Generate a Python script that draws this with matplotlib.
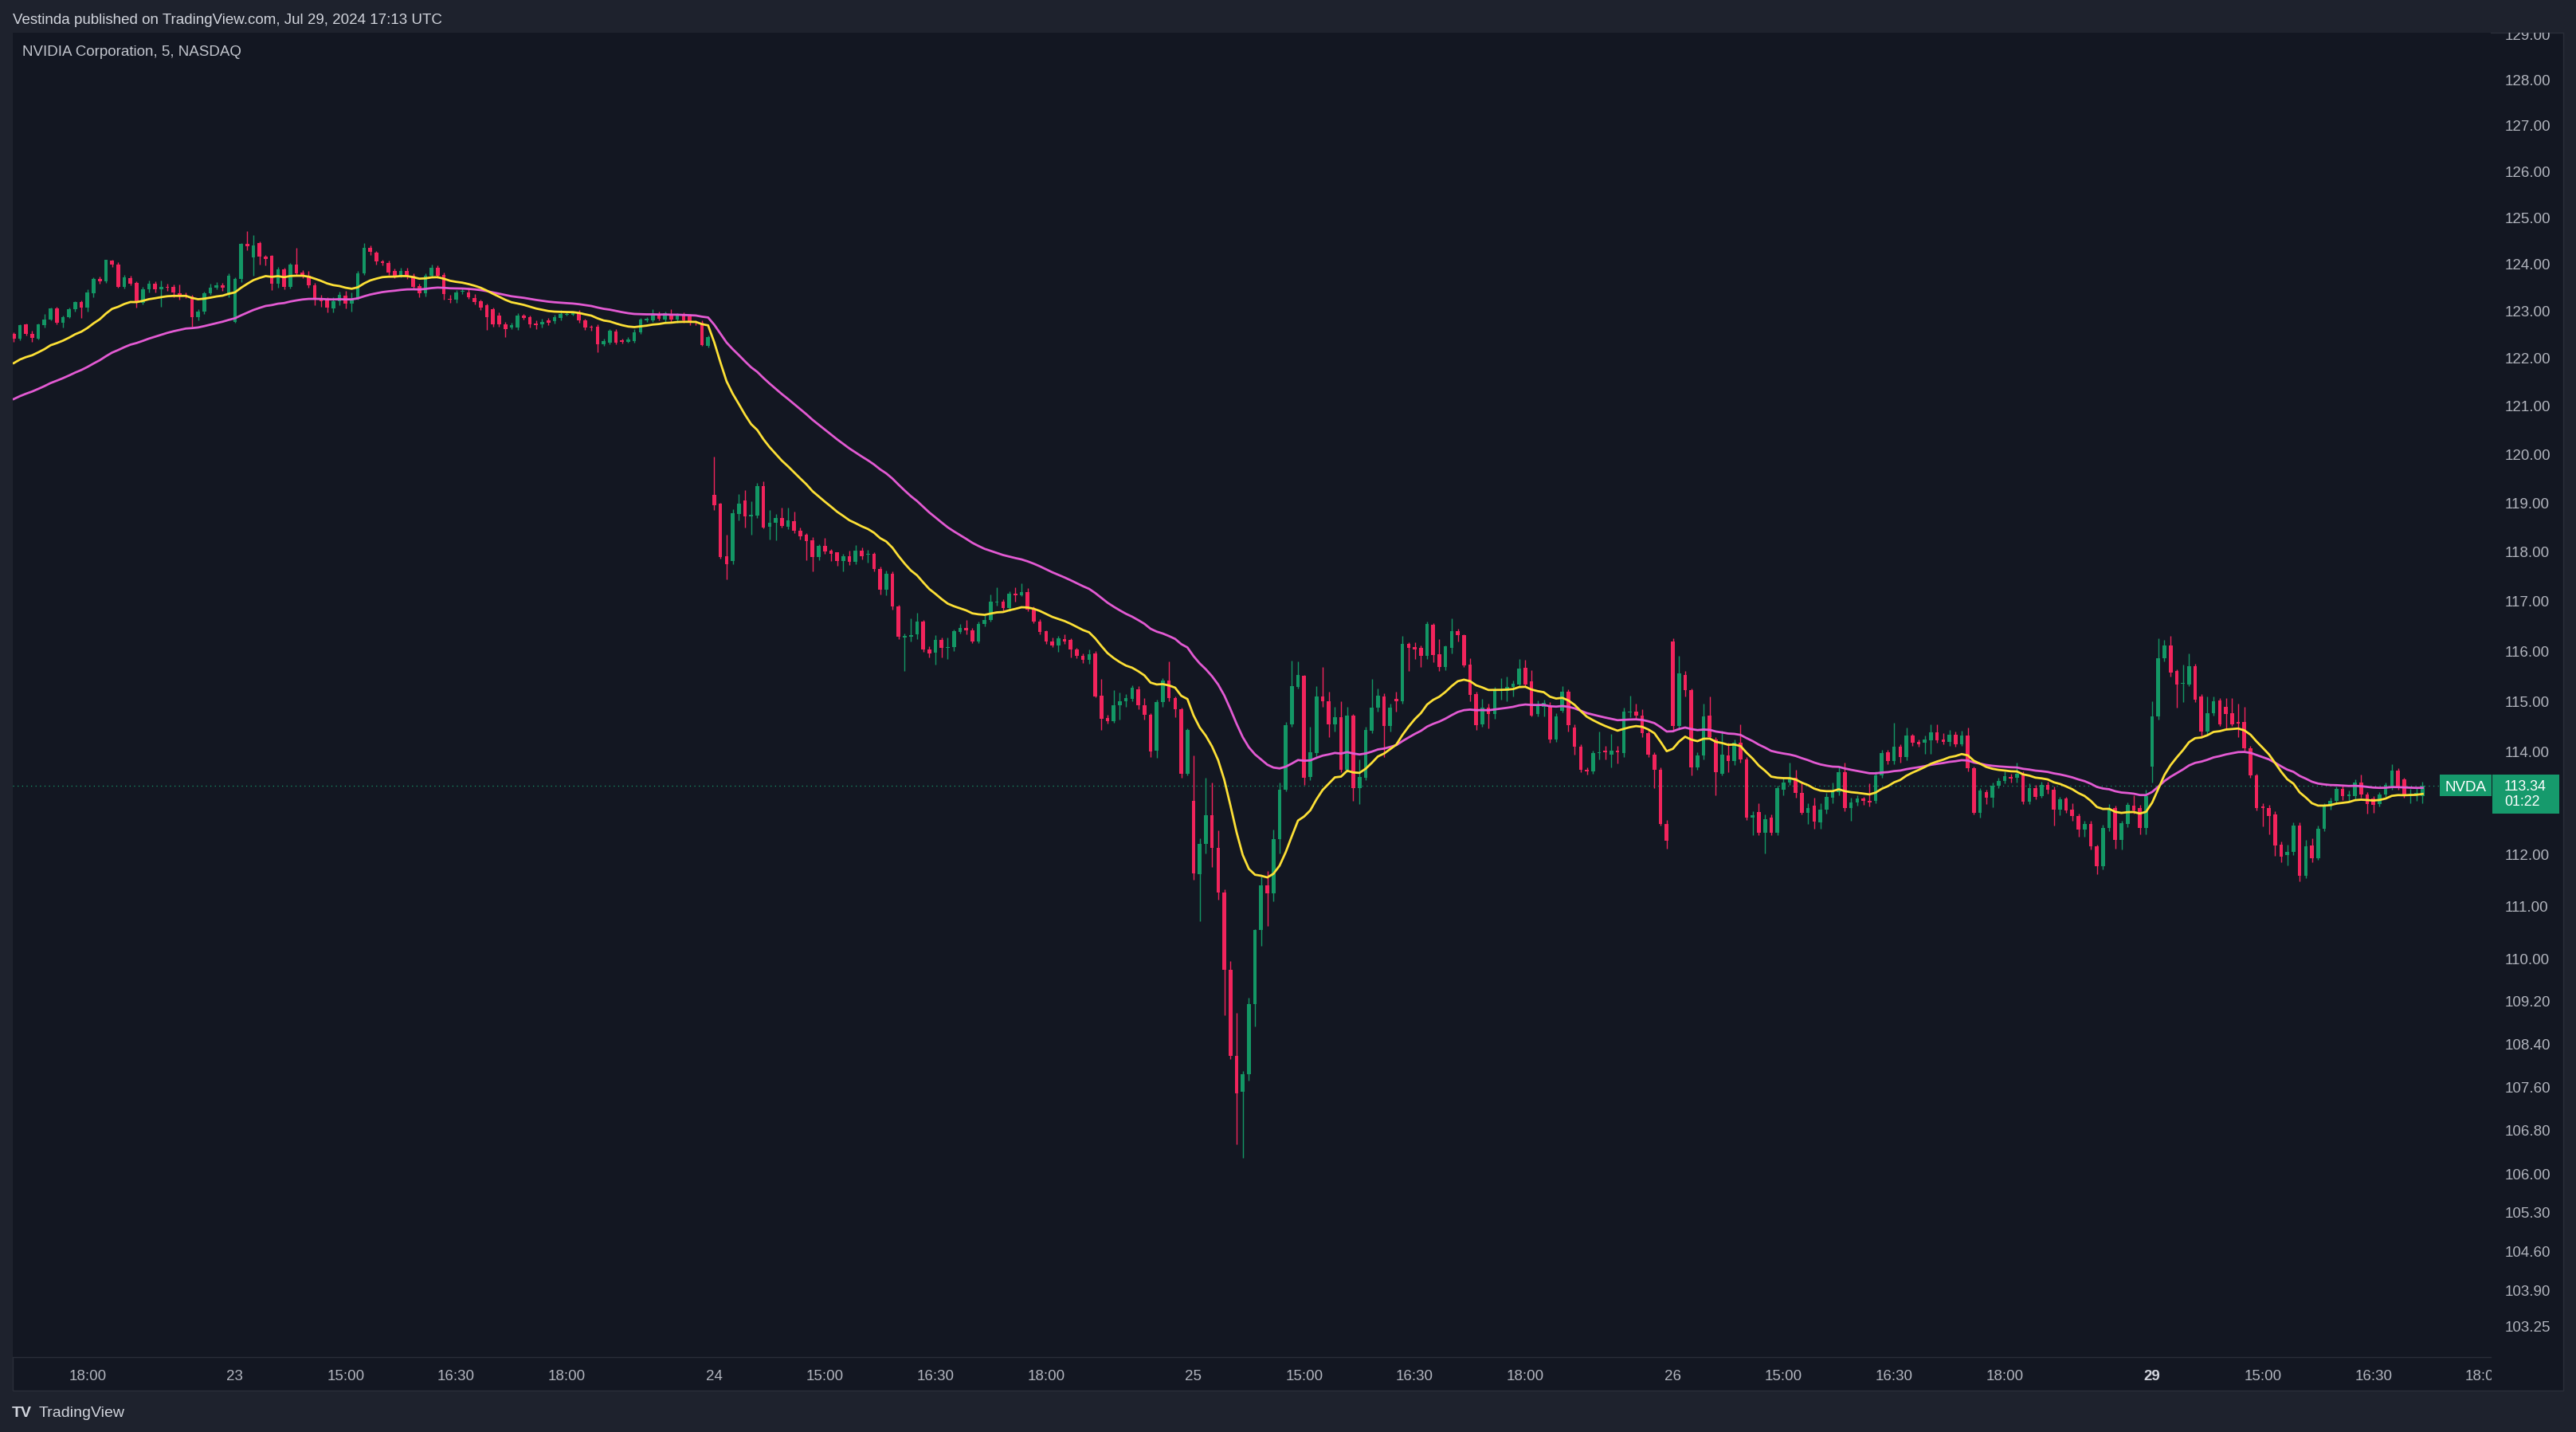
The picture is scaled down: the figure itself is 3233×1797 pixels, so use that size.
import numpy as np
import pandas as pd
import matplotlib
matplotlib.use('Agg')
import matplotlib.pyplot as plt
from matplotlib.patches import Rectangle
from matplotlib.transforms import Bbox
from matplotlib.ticker import FixedLocator, NullLocator, FuncFormatter

plt.rcParams['font.family'] = ['Liberation Sans', 'DejaVu Sans']

# NVDA 5-minute bars, 2024-07-22 17:00 UTC .. 2024-07-29 17:10 UTC
open_ = [
    # Jul 22
    122.52, 122.42, 122.72, 122.52, 122.42, 122.70, 122.82, 123.06, 122.76, 122.87, 123.04, 123.20,
    123.08, 123.38, 123.68, 123.64, 124.08, 124.00, 123.52, 123.70, 123.60, 123.18, 123.47, 123.58,
    123.47, 123.52, 123.51, 123.38, 123.34, 123.31, 122.87, 122.99, 123.38, 123.50, 123.55, 123.36,
    # Jul 23
    122.78, 123.68, 124.43, 124.15, 124.45, 124.16, 124.18, 123.59, 123.89, 123.52,
    123.99, 123.83, 123.75, 123.55, 123.27, 123.24, 123.06, 123.21, 123.33, 123.17,
    123.27, 123.81, 124.36, 124.25, 124.06, 124.03, 123.85, 123.76, 123.85, 123.75,
    123.53, 123.38, 123.76, 123.92, 123.77, 123.27, 123.24, 123.41, 123.40, 123.28,
    123.21, 123.12, 123.04, 122.90, 122.73, 122.65, 122.65, 122.90, 122.87, 122.74,
    122.72, 122.81, 122.79, 122.86, 122.93, 122.93, 122.98, 122.81, 122.66, 122.68,
    122.31, 122.34, 122.57, 122.39, 122.36, 122.37, 122.55, 122.81, 122.81, 122.93,
    122.82, 122.93, 122.82, 122.93, 122.89, 122.78, 122.76, 122.27,
    # Jul 24
    119.17, 118.99, 117.92, 117.81, 118.78, 119.05, 118.73, 118.75, 119.35, 118.51,
    118.60, 118.69, 118.52, 118.63, 118.44, 118.35, 118.24, 117.90, 118.13, 118.02,
    117.99, 117.82, 117.92, 117.80, 118.02, 117.94, 117.96, 117.66, 117.23, 117.56,
    116.90, 116.28, 116.29, 116.34, 116.60, 116.04, 115.97, 116.22, 116.06, 116.08,
    116.39, 116.47, 116.41, 116.20, 116.55, 116.62, 116.98, 117.00, 116.87, 117.15,
    117.12, 117.18, 116.83, 116.60, 116.40, 116.20, 116.12, 116.24, 116.23, 116.03,
    115.91, 115.82, 115.96, 115.11, 114.67, 114.61, 114.93, 115.00, 115.05, 115.24,
    114.93, 114.73, 114.02, 114.98, 115.42, 115.07, 114.85, 113.58,
    # Jul 25
    113.05, 111.63, 112.21, 112.77, 112.13, 111.28, 109.80, 108.19, 107.51, 107.84,
    109.16, 110.55, 111.41, 111.26, 112.30, 113.27, 114.55, 115.29, 115.51, 113.51,
    113.98, 115.09, 115.01, 114.55, 114.68, 113.66, 114.72, 113.29, 113.50, 114.42,
    114.87, 115.10, 114.51, 115.05, 115.00, 116.15, 116.08, 116.06, 115.91, 116.53,
    115.94, 115.69, 116.07, 116.40, 116.32, 115.73, 115.15, 114.54, 114.87, 114.75,
    115.21, 115.21, 115.28, 115.34, 115.67, 115.40, 114.75, 114.90, 114.93, 114.24,
    114.82, 115.20, 114.49, 114.11, 113.66, 113.62, 113.98, 114.02, 113.95, 114.02,
    113.98, 114.78, 114.80, 114.72, 114.38, 113.95, 113.66, 112.60,
    # Jul 26
    116.20, 114.51, 115.52, 115.23, 113.70, 113.93, 114.72, 114.24, 113.58, 113.93,
    113.82, 114.19, 113.85, 112.72, 112.83, 112.43, 112.72, 112.43, 113.27, 113.41,
    113.50, 113.20, 112.82, 112.95, 112.63, 112.88, 113.11, 113.21, 113.60, 112.90,
    113.02, 113.09, 113.05, 113.04, 113.55, 113.99, 113.82, 114.11, 113.90, 114.32,
    114.20, 114.18, 114.23, 114.39, 114.25, 114.20, 114.34, 114.16, 114.32, 113.69,
    112.81, 113.22, 113.10, 113.34, 113.43, 113.51, 113.50, 113.57, 113.03, 113.30,
    113.14, 113.35, 113.27, 112.88, 113.09, 112.87, 112.75, 112.49, 112.60, 112.16,
    111.78, 112.52, 112.91, 112.28, 112.60, 112.95, 112.90, 112.52,
    # Jul 29
    113.72, 114.70, 115.86, 116.12, 115.61, 115.35, 115.34, 115.70, 115.10, 114.41,
    114.76, 115.02, 114.90, 114.76, 114.60, 114.60, 114.08, 113.54, 112.94, 112.91,
    112.78, 112.20, 111.99, 112.06, 112.57, 111.60, 112.18, 111.94, 112.51, 112.94,
    113.04, 113.28, 113.14, 113.14, 113.40, 113.17, 113.09, 112.99, 113.17, 113.30,
    113.64, 113.46, 113.17, 113.18, 113.14,
]
high = [
    # Jul 22
    122.56, 122.72, 122.74, 122.58, 122.74, 122.95, 123.08, 123.10, 122.90, 123.08, 123.22, 123.23,
    123.46, 123.72, 123.74, 124.10, 124.10, 124.04, 123.78, 123.76, 123.64, 123.52, 123.66, 123.64,
    123.66, 123.58, 123.56, 123.56, 123.40, 123.35, 123.05, 123.42, 123.58, 123.62, 123.60, 123.80,
    # Jul 23
    123.72, 124.45, 124.71, 124.63, 124.48, 124.20, 124.20, 123.95, 123.92, 124.02,
    124.35, 123.88, 123.86, 123.60, 123.35, 123.30, 123.30, 123.42, 123.44, 123.40,
    123.85, 124.46, 124.40, 124.28, 124.10, 124.08, 123.90, 123.92, 123.92, 123.80,
    123.58, 123.80, 124.00, 123.98, 123.82, 123.35, 123.45, 123.50, 123.50, 123.36,
    123.25, 123.16, 123.08, 122.98, 122.78, 122.75, 122.96, 122.94, 122.90, 122.80,
    122.84, 122.86, 122.92, 123.02, 123.00, 123.00, 123.02, 122.84, 122.70, 122.72,
    122.42, 122.62, 122.62, 122.42, 122.45, 122.62, 122.86, 122.88, 123.05, 123.00,
    123.00, 123.05, 122.96, 122.98, 122.95, 122.80, 122.80, 122.48,
    # Jul 24
    119.96, 119.00, 118.35, 118.88, 119.19, 119.26, 119.04, 119.42, 119.44, 118.85,
    118.78, 118.90, 118.90, 118.82, 118.50, 118.38, 118.30, 118.16, 118.28, 118.06,
    118.00, 117.96, 118.02, 118.14, 118.10, 118.04, 117.99, 117.70, 117.62, 117.60,
    116.93, 116.35, 116.66, 116.77, 116.62, 116.10, 116.32, 116.28, 116.28, 116.44,
    116.55, 116.62, 116.46, 116.60, 116.72, 117.14, 117.29, 117.04, 117.20, 117.28,
    117.36, 117.26, 116.90, 116.64, 116.42, 116.28, 116.30, 116.34, 116.26, 116.06,
    115.95, 116.04, 116.00, 115.45, 114.74, 115.22, 115.18, 115.14, 115.32, 115.30,
    115.06, 114.76, 115.03, 115.46, 115.79, 115.10, 114.88, 114.47,
    # Jul 25
    113.93, 112.32, 113.50, 113.41, 112.47, 111.33, 109.97, 108.99, 107.90, 109.28,
    110.58, 111.58, 111.69, 112.48, 113.40, 114.60, 115.81, 115.80, 115.52, 114.50,
    115.31, 115.68, 115.20, 114.90, 115.00, 114.90, 114.75, 113.85, 114.50, 115.45,
    115.25, 115.16, 114.95, 115.20, 116.30, 116.18, 116.18, 116.12, 116.60, 116.56,
    116.24, 116.12, 116.66, 116.45, 116.34, 115.86, 115.20, 115.05, 114.96, 115.28,
    115.46, 115.50, 115.42, 115.84, 115.82, 115.62, 115.02, 115.04, 114.98, 114.76,
    115.30, 115.24, 114.55, 114.15, 113.70, 114.02, 114.40, 114.12, 114.35, 114.12,
    114.88, 115.12, 114.96, 114.84, 114.42, 114.00, 113.70, 112.68,
    # Jul 26
    116.26, 115.90, 115.60, 115.26, 114.00, 114.96, 115.10, 114.30, 114.42, 114.18,
    114.25, 114.54, 113.90, 112.85, 113.00, 112.78, 112.78, 113.34, 113.50, 113.80,
    113.66, 113.40, 113.00, 113.10, 113.00, 113.20, 113.40, 113.72, 113.80, 113.10,
    113.16, 113.12, 113.38, 113.62, 114.04, 114.04, 114.58, 114.16, 114.48, 114.36,
    114.24, 114.32, 114.54, 114.54, 114.38, 114.44, 114.40, 114.42, 114.48, 113.72,
    113.30, 113.26, 113.40, 113.50, 113.62, 113.58, 113.80, 113.62, 113.38, 113.36,
    113.42, 113.42, 113.32, 113.12, 113.12, 113.00, 112.80, 112.65, 112.66, 112.20,
    112.58, 112.98, 112.95, 112.66, 113.02, 113.16, 112.96, 113.26,
    # Jul 29
    115.00, 116.25, 116.22, 116.30, 115.64, 115.73, 115.96, 115.74, 115.14, 115.10,
    115.10, 115.06, 115.06, 115.06, 114.96, 114.90, 114.12, 113.58, 113.00, 112.96,
    112.85, 112.25, 112.20, 112.62, 112.62, 112.28, 112.32, 112.56, 113.00, 113.10,
    113.32, 113.35, 113.24, 113.46, 113.56, 113.22, 113.14, 113.22, 113.40, 113.76,
    113.68, 113.50, 113.28, 113.30, 113.42,
]
low = [
    # Jul 22
    122.35, 122.38, 122.48, 122.36, 122.40, 122.66, 122.80, 122.72, 122.65, 122.85, 123.00, 122.86,
    123.00, 123.30, 123.58, 123.60, 123.95, 123.50, 123.48, 123.55, 123.08, 123.14, 123.40, 123.40,
    123.10, 123.44, 123.30, 123.25, 123.28, 122.68, 122.80, 122.95, 123.34, 123.46, 123.44, 123.30,
    # Jul 23
    122.75, 123.62, 124.30, 123.75, 124.00, 123.98, 123.45, 123.50, 123.46, 123.48,
    123.76, 123.70, 123.50, 123.13, 123.10, 122.97, 122.98, 123.12, 123.06, 123.00,
    123.24, 123.78, 124.20, 124.00, 123.98, 123.78, 123.70, 123.72, 123.68, 123.47,
    123.30, 123.32, 123.72, 123.70, 123.25, 123.18, 123.18, 123.36, 123.26, 123.14,
    123.02, 122.60, 122.68, 122.68, 122.46, 122.62, 122.60, 122.82, 122.66, 122.62,
    122.66, 122.70, 122.74, 122.80, 122.90, 122.90, 122.76, 122.60, 122.58, 122.13,
    122.26, 122.30, 122.30, 122.32, 122.33, 122.33, 122.52, 122.78, 122.78, 122.80,
    122.78, 122.78, 122.76, 122.76, 122.70, 122.70, 122.26, 122.24,
    # Jul 24
    118.86, 117.86, 117.44, 117.75, 118.65, 118.50, 118.36, 118.70, 118.48, 118.26,
    118.24, 118.50, 118.47, 118.38, 118.26, 117.84, 117.60, 117.84, 117.96, 117.82,
    117.72, 117.60, 117.74, 117.76, 117.85, 117.78, 117.60, 117.14, 117.12, 116.84,
    116.24, 115.60, 116.20, 116.24, 115.98, 115.88, 115.73, 115.88, 115.85, 116.00,
    116.35, 116.34, 116.16, 116.16, 116.50, 116.60, 116.92, 116.82, 116.80, 117.00,
    117.10, 116.80, 116.56, 116.34, 116.14, 116.08, 115.98, 116.15, 115.88, 115.86,
    115.76, 115.74, 115.08, 114.44, 114.56, 114.58, 114.64, 114.90, 115.00, 114.84,
    114.64, 113.90, 113.88, 114.90, 115.00, 114.68, 113.50, 113.54,
    # Jul 25
    111.52, 110.73, 112.02, 111.76, 111.13, 108.95, 108.13, 106.54, 106.30, 107.72,
    108.73, 110.26, 110.64, 111.10, 112.02, 113.23, 114.50, 115.25, 113.35, 113.45,
    113.90, 114.90, 114.30, 114.40, 113.60, 113.60, 113.05, 112.98, 113.45, 114.38,
    114.80, 113.90, 114.40, 114.80, 114.95, 115.60, 115.85, 115.68, 115.85, 115.78,
    115.60, 115.62, 115.95, 116.20, 115.68, 115.00, 114.44, 114.50, 114.46, 114.66,
    115.04, 115.00, 115.10, 115.30, 115.30, 114.70, 114.70, 114.70, 114.18, 114.20,
    114.78, 114.40, 113.95, 113.60, 113.56, 113.58, 113.86, 113.86, 113.70, 113.78,
    113.90, 114.68, 114.66, 114.30, 113.90, 113.30, 112.56, 112.12,
    # Jul 26
    114.40, 114.44, 115.10, 113.55, 113.66, 113.86, 114.24, 113.15, 113.54, 113.60,
    113.74, 113.80, 112.68, 112.38, 112.38, 112.02, 112.38, 112.38, 113.15, 113.35,
    113.10, 112.78, 112.60, 112.50, 112.50, 112.80, 113.00, 113.15, 112.85, 112.66,
    112.95, 112.96, 112.93, 113.00, 113.50, 113.76, 113.76, 113.80, 113.84, 114.12,
    114.10, 113.96, 113.96, 114.18, 114.15, 114.12, 114.10, 114.12, 113.62, 112.78,
    112.72, 112.98, 112.92, 113.30, 113.38, 113.40, 113.40, 112.98, 112.98, 113.08,
    113.10, 113.18, 112.56, 112.76, 112.82, 112.65, 112.35, 112.35, 112.10, 111.62,
    111.72, 112.46, 112.12, 112.10, 112.54, 112.80, 112.40, 112.40,
    # Jul 29
    113.40, 114.64, 115.80, 115.50, 114.87, 114.99, 115.30, 114.98, 114.30, 114.32,
    114.72, 114.52, 114.46, 114.52, 114.30, 114.02, 113.50, 112.86, 112.55, 112.40,
    111.98, 111.85, 111.80, 112.00, 111.49, 111.55, 111.85, 111.90, 112.45, 112.88,
    112.98, 113.06, 113.04, 113.08, 113.10, 112.80, 112.82, 112.94, 113.12, 113.26,
    113.26, 113.10, 113.00, 113.05, 113.00,
]
close = [
    # Jul 22
    122.42, 122.70, 122.52, 122.44, 122.72, 122.83, 123.06, 122.75, 122.87, 123.04, 123.20, 123.08,
    123.40, 123.68, 123.64, 124.09, 124.00, 123.52, 123.72, 123.59, 123.18, 123.47, 123.59, 123.47,
    123.52, 123.50, 123.40, 123.33, 123.32, 122.87, 122.99, 123.38, 123.50, 123.55, 123.50, 123.75,
    # Jul 23
    123.68, 124.43, 124.38, 124.40, 124.16, 124.12, 123.58, 123.89, 123.51, 123.99,
    123.81, 123.75, 123.55, 123.28, 123.21, 123.07, 123.21, 123.35, 123.16, 123.27,
    123.81, 124.36, 124.26, 124.06, 124.03, 123.83, 123.75, 123.86, 123.74, 123.52,
    123.38, 123.76, 123.92, 123.76, 123.37, 123.25, 123.40, 123.44, 123.30, 123.20,
    123.08, 122.87, 122.72, 122.72, 122.62, 122.70, 122.91, 122.86, 122.72, 122.70,
    122.78, 122.75, 122.87, 122.94, 122.95, 122.96, 122.80, 122.65, 122.65, 122.31,
    122.37, 122.59, 122.34, 122.35, 122.41, 122.55, 122.83, 122.84, 122.93, 122.84,
    122.96, 122.82, 122.91, 122.81, 122.78, 122.75, 122.28, 122.45,
    # Jul 24
    118.96, 117.90, 117.76, 118.79, 118.99, 118.72, 118.76, 119.35, 118.50, 118.60,
    118.69, 118.53, 118.65, 118.43, 118.32, 118.23, 117.90, 118.12, 118.01, 117.96,
    117.82, 117.92, 117.80, 118.02, 117.92, 117.96, 117.66, 117.23, 117.56, 116.89,
    116.29, 116.30, 116.32, 116.60, 116.03, 115.96, 116.22, 116.06, 116.08, 116.40,
    116.47, 116.41, 116.20, 116.55, 116.63, 117.00, 117.00, 116.86, 117.15, 117.12,
    117.19, 116.83, 116.60, 116.39, 116.19, 116.12, 116.25, 116.20, 116.03, 115.90,
    115.82, 115.94, 115.10, 114.65, 114.61, 114.93, 115.00, 115.06, 115.27, 114.93,
    114.73, 114.01, 114.99, 115.41, 115.06, 114.85, 113.58, 114.44,
    # Jul 25
    111.64, 112.21, 112.77, 112.13, 111.28, 109.80, 108.19, 107.49, 107.84, 109.16,
    110.55, 111.41, 111.26, 112.30, 113.27, 114.53, 115.31, 115.52, 113.50, 113.99,
    115.10, 115.00, 114.55, 114.68, 113.66, 114.72, 113.29, 113.51, 114.43, 114.88,
    115.12, 114.51, 114.88, 115.00, 116.15, 116.06, 116.04, 115.91, 116.54, 115.92,
    115.69, 116.09, 116.40, 116.32, 115.72, 115.13, 114.53, 114.87, 114.75, 115.24,
    115.24, 115.28, 115.35, 115.66, 115.34, 114.72, 114.91, 114.97, 114.25, 114.71,
    115.20, 114.53, 114.11, 113.65, 113.62, 113.98, 113.99, 113.99, 114.02, 114.00,
    114.79, 114.80, 114.72, 114.37, 113.95, 113.66, 112.59, 112.27,
    # Jul 26
    114.51, 115.55, 115.22, 113.70, 113.93, 114.71, 114.29, 113.60, 113.95, 113.82,
    114.19, 113.85, 112.72, 112.77, 112.43, 112.69, 112.43, 113.29, 113.41, 113.48,
    113.20, 112.82, 112.90, 112.64, 112.88, 113.12, 113.25, 113.60, 112.90, 113.02,
    113.09, 113.04, 113.02, 113.55, 113.98, 113.82, 114.11, 113.90, 114.32, 114.18,
    114.15, 114.24, 114.39, 114.23, 114.20, 114.34, 114.15, 114.33, 113.69, 112.81,
    113.24, 113.10, 113.34, 113.44, 113.52, 113.48, 113.58, 113.03, 113.30, 113.13,
    113.35, 113.26, 112.88, 113.07, 112.86, 112.75, 112.49, 112.60, 112.16, 111.78,
    112.52, 112.91, 112.28, 112.61, 112.96, 112.86, 112.52, 113.14,
    # Jul 29
    114.71, 115.86, 116.11, 115.57, 115.34, 115.37, 115.70, 115.03, 114.41, 114.76,
    115.01, 114.55, 114.75, 114.55, 114.56, 114.08, 113.54, 112.91, 112.91, 112.75,
    112.18, 111.97, 112.06, 112.57, 111.60, 112.16, 111.94, 112.51, 112.95, 113.05,
    113.28, 113.14, 113.17, 113.40, 113.17, 112.99, 112.96, 113.17, 113.35, 113.64,
    113.30, 113.14, 113.19, 113.20, 113.34,
]

# moving averages: value at the left edge of the chart
ema_fast_len, ema_fast_seed = 20, 121.85
ema_slow_len, ema_slow_seed = 50, 121.10

sessions = ['2024-07-22', '2024-07-23', '2024-07-24', '2024-07-25', '2024-07-26', '2024-07-29']
first_bar, last_bar = '2024-07-22 17:00', '2024-07-29 17:10'

tick_times = ['2024-07-22 18:00',
              '2024-07-23 13:30', '2024-07-23 15:00', '2024-07-23 16:30', '2024-07-23 18:00',
              '2024-07-24 13:30', '2024-07-24 15:00', '2024-07-24 16:30', '2024-07-24 18:00',
              '2024-07-25 13:30', '2024-07-25 15:00', '2024-07-25 16:30', '2024-07-25 18:00',
              '2024-07-26 13:30', '2024-07-26 15:00', '2024-07-26 16:30', '2024-07-26 18:00',
              '2024-07-29 13:30', '2024-07-29 15:00', '2024-07-29 16:30', '2024-07-29 18:00']

# visible price scale labels (113.00 sits under the last-price label)
price_ticks = [103.25, 103.90, 104.60, 105.30, 106.00, 106.80, 107.60, 108.40, 109.20, 110.00,
               111.00, 112.00, 114.00, 115.00, 116.00, 117.00, 118.00, 119.00, 120.00,
               121.00, 122.00, 123.00, 124.00, 125.00, 126.00, 127.00, 128.00, 129.00]

header = 'Vestinda published on TradingView.com, Jul 29, 2024 17:13 UTC'
symbol_title = 'NVIDIA Corporation, 5, NASDAQ'
countdown = '01:22'

# colours
OUTER = '#1e222d'
PANEL = '#131722'
BORDER = '#2a2e39'
UP = '#139765'
DOWN = '#f2245c'
YELLOW = '#fde036'
PINK = '#e35ad3'
TEXT = '#b2b5be'
LABEL = '#169a6c'


def ema(values, length, seed):
    k = 2 / (length + 1)
    out = []
    prev = seed
    for v in values:
        prev = prev + k * (v - prev)
        out.append(prev)
    return np.array(out)


o = np.array(open_)
h = np.array(high)
l = np.array(low)
c = np.array(close)
assert len(o) == len(h) == len(l) == len(c)

# bar times (regular session, UTC)
bar_times = pd.DatetimeIndex(np.concatenate(
    [pd.date_range(f'{d} 13:30', f'{d} 19:55', freq='5min').values for d in sessions]))
bar_times = bar_times[(bar_times >= first_bar) & (bar_times <= last_bar)]
assert len(bar_times) == len(c)
x = np.arange(len(c))


def bar_pos(t):
    t = pd.Timestamp(t)
    if t <= bar_times[-1]:
        return bar_times.get_loc(t)
    return len(bar_times) - 1 + (t - bar_times[-1]) / pd.Timedelta('5min')


tick_pos = [bar_pos(t) for t in tick_times]
tick_labels = [str(pd.Timestamp(t).day) if pd.Timestamp(t).strftime('%H:%M') == '13:30'
               else pd.Timestamp(t).strftime('%H:%M') for t in tick_times]

W, H = 3233, 1797
fig = plt.figure(figsize=(W / 100, H / 100), dpi=100)
fig.patch.set_facecolor(OUTER)


def fbox(x0, y0, x1, y1):
    # pixel box measured from the top-left corner -> figure fraction
    return [x0 / W, 1 - y1 / H, (x1 - x0) / W, (y1 - y0) / H]


pb = fbox(16, 41, 3217, 1745)
fig.add_artist(Rectangle((pb[0], pb[1]), pb[2], pb[3], transform=fig.transFigure,
                         facecolor=PANEL, edgecolor=BORDER, lw=1, zorder=-1))

ax = fig.add_axes(fbox(16, 41, 3126, 1703))
ax.set_facecolor(PANEL)

# candles
colors = np.where(c >= o, UP, DOWN)
ax.vlines(x, l, h, colors=colors, lw=1.0, zorder=2)
ax.bar(x, np.maximum(np.abs(c - o), 0.02), bottom=np.minimum(o, c), width=0.6,
       color=colors, linewidth=0, zorder=3)

# moving averages
ax.plot(x, ema(c, ema_slow_len, ema_slow_seed), color=PINK, lw=2.0, zorder=4)
ax.plot(x, ema(c, ema_fast_len, ema_fast_seed), color=YELLOW, lw=2.0, zorder=5)

# last price line
ax.axhline(c[-1], color=LABEL, lw=0.9, ls=(0, (1, 3.5)), zorder=1)

ax.set_yscale('log')
ax.set_ylim(102.71, 129.05)
ax.set_xlim(-0.16, 403.1)
ax.yaxis.set_major_locator(FixedLocator(price_ticks))
ax.yaxis.set_major_formatter(FuncFormatter(lambda v, _: f'{v:.2f}'))
ax.yaxis.set_minor_locator(NullLocator())
ax.yaxis.tick_right()
ax.tick_params(axis='y', length=0, pad=13, labelsize=13.5, labelcolor=TEXT)
ax.set_xticks(tick_pos, tick_labels)
ax.tick_params(axis='x', length=0, pad=11.5, labelsize=13.5, labelcolor=TEXT)
for s in ['top', 'left', 'right']:
    ax.spines[s].set_visible(False)
ax.spines['bottom'].set_color(BORDER)
ax.spines['bottom'].set_linewidth(1)

x_clip = Bbox.from_extents(16, 0, 3127, H)
for lbl in ax.get_xticklabels():
    lbl.set_clip_box(x_clip)
    lbl.set_clip_on(True)
    if lbl.get_text() == '29':
        lbl.set_fontweight('bold')
        lbl.set_color('#d1d4dc')
y_clip = Bbox.from_extents(3126, H - 1745, 3217, H - 41)
for lbl in ax.get_yticklabels():
    lbl.set_clip_box(y_clip)
    lbl.set_clip_on(True)

# symbol and last price labels on the price scale
y_last = ax.transData.transform((0, c[-1]))[1]
fig.add_artist(Rectangle((3062 / W, (y_last - 13) / H), 65 / W, 27 / H, transform=fig.transFigure,
                         facecolor=LABEL, edgecolor='none', zorder=2))
fig.add_artist(Rectangle((3128 / W, (y_last - 35) / H), 84 / W, 49 / H, transform=fig.transFigure,
                         facecolor=LABEL, edgecolor='none', zorder=2))
fig.text(3094 / W, y_last / H, 'NVDA', ha='center', va='center_baseline', fontsize=13.5,
         color='white', zorder=3)
fig.text(3143 / W, (y_last - 11) / H, f'{c[-1]:.2f}\n{countdown}', ha='left', va='center',
         fontsize=12.8, linespacing=1.2, color='white', zorder=3)

# header and footer
fig.text(16 / W, 1 - 23 / H, header, ha='left', va='center_baseline', fontsize=13.5, color='#d1d4dc')
fig.text(28 / W, 1 - 64 / H, symbol_title, ha='left', va='center_baseline', fontsize=13.5,
         color='#c3c6ce')
fig.text(15 / W, 1 - 1771 / H, 'TV', ha='left', va='center_baseline', fontsize=14,
         fontweight='heavy', color='#d1d4dc')
fig.text(49 / W, 1 - 1771 / H, 'TradingView', ha='left', va='center_baseline', fontsize=14,
         color='#d1d4dc')

fig.savefig('out.png', dpi=100, facecolor=fig.get_facecolor())
